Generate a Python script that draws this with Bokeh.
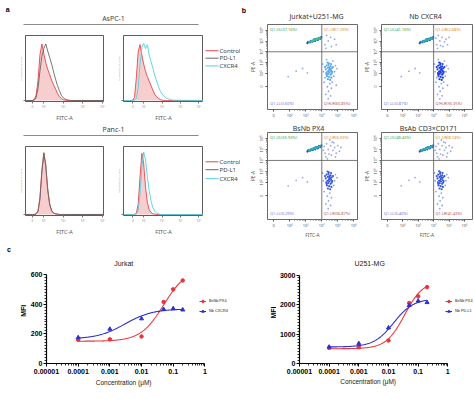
import numpy as np
from bokeh.plotting import figure
from bokeh.layouts import row, column
from bokeh.models import Range1d, FixedTicker, Label, Legend, LegendItem, Span, Spacer
from bokeh.core.properties import value
from bokeh.embed import file_html
from bokeh.resources import INLINE

FONT = "Liberation Sans"
SFONT = "Noto Sans"

# ---------------- panel a : flow histograms (FITC-A in decade units, % of mode) ----------------
hist_u = [-0.07, 0.3, 0.4, 0.5, 0.6, 0.7, 0.8, 0.9, 1.0, 1.1, 1.2, 1.3, 1.4, 1.5, 1.6, 1.7, 1.8,
          1.9, 2.0, 2.1, 2.2, 2.3, 2.4, 2.5, 2.6, 4.28]
aspc_control_a = [0, 0, 0, 1, 8, 30, 70, 87, 72, 58, 48, 40, 31, 24, 18, 11, 6, 3, 1, 0.5, 0, 0, 0, 0, 0, 0]
aspc_pdl1 = [0, 0, 0, 0.5, 4, 18, 45, 68, 80, 87, 76, 66, 56, 44, 33, 23, 15, 8, 4, 2, 1, 0.5, 0, 0, 0, 0]
aspc_control_b = [0, 0, 0.5, 5, 35, 75, 86, 70, 56, 45, 37, 30, 23, 16, 10, 6, 3.5, 1.5, 0.5, 0, 0, 0, 0, 0, 0, 0]
aspc_cxcr4 = [0, 0, 0, 0.5, 3, 20, 55, 82, 88, 80, 86, 70, 60, 50, 39, 30, 22, 15, 10, 7, 4.5, 3, 2, 1, 0.5, 0]
panc_control_a = [0, 0, 0, 0, 1, 5, 25, 65, 91, 70, 35, 14, 5, 2, 1, 0.5, 0, 0, 0, 0, 0, 0, 0, 0, 0, 0]
panc_pdl1 = [0, 0, 0, 0, 0.5, 4, 22, 62, 90, 74, 38, 16, 6, 2, 1, 0.5, 0, 0, 0, 0, 0, 0, 0, 0, 0, 0]
panc_control_b = [0, 0, 0, 0, 2, 15, 55, 90, 75, 40, 18, 7, 3, 1, 0.5, 0, 0, 0, 0, 0, 0, 0, 0, 0, 0, 0]
panc_cxcr4 = [0, 0, 0, 0, 1, 6, 30, 70, 92, 80, 55, 35, 20, 10, 5, 2, 1, 0, 0, 0, 0, 0, 0, 0, 0, 0]
hist_tick_u = [0.41, 1, 2, 3, 4]
hist_tick_labels = ["0", "10³", "10⁴", "10⁵", "10⁶"]
hist_titles = ["AsPC-1", "Panc-1"]
hist_legend = ["Control", "PD-L1", "CXCR4"]

# ---------------- panel b : flow dot plots (decade units) ----------------
flow_titles = ["Jurkat+U251-MG", "Nb CXCR4", "BsNb PX4", "BsAb CD3×CD171"]
q_ul = ["37.16", "41.16", "55.93", "49.43"]
q_ur = ["1.39", "2.68", "6.93", "8.74"]
q_ll = ["0.60", "0.81", "0.29", "0.40"]
q_lr = ["60.85", "55.35", "36.87", "41.43"]
flow_x_ticks = [0, 1, 2, 3, 4, 5]
flow_y_ticks = [-0.21, 1, 2, 3, 4, 5]
flow_tick_labels = ["0", "10²", "10³", "10⁴", "10⁵", "10⁶"]
gate_x = 3.0
gate_y = 3.0
ul_core_x = [2.20, 2.28, 2.35, 2.40, 2.45, 2.50, 2.55, 2.58, 2.62, 2.66, 2.70, 2.74, 2.78, 2.82, 2.86, 2.90,
             2.40, 2.52, 2.60, 2.68, 2.76, 2.84, 2.47, 2.64, 2.72]
ul_core_y = [3.90, 3.96, 3.98, 4.03, 4.02, 4.08, 4.07, 4.13, 4.12, 4.16, 4.15, 4.21, 4.20, 4.26, 4.24, 4.30,
             4.00, 4.06, 4.10, 4.14, 4.19, 4.23, 4.07, 4.15, 4.20]
ul_edge_x = [2.10, 2.18, 2.25, 2.33, 2.42, 2.50, 2.58, 2.66, 2.74, 2.82, 2.90, 2.97, 2.30, 2.46, 2.62, 2.78,
             2.94, 2.15, 2.38, 2.55, 2.70, 2.86]
ul_edge_y = [3.80, 3.92, 3.88, 4.01, 3.95, 4.12, 4.00, 4.20, 4.09, 4.29, 4.20, 4.35, 3.93, 4.00, 4.17, 4.14,
             4.31, 3.90, 3.98, 4.13, 4.21, 4.27]
lr_core_x = [3.30, 3.42, 3.55, 3.38, 3.50, 3.62, 3.25, 3.45, 3.58, 3.35, 3.48, 3.65, 3.28, 3.40, 3.55, 3.32,
             3.46, 3.60, 3.38, 3.52, 3.44, 3.36, 3.58, 3.70, 3.20, 3.47, 3.53, 3.41, 3.30, 3.62]
lr_core_y = [1.72, 1.79, 1.65, 1.51, 1.44, 1.47, 1.37, 1.30, 1.23, 1.16, 1.09, 1.13, 1.02, 0.95, 0.88, 0.74,
             0.67, 0.60, 0.46, 0.39, 1.93, 2.00, 1.86, 1.58, 1.58, 1.58, 1.37, 1.16, 0.88, 0.99]
lr_sparse_x = [3.15, 3.50, 3.35, 3.60, 3.42, 3.25, 3.55, 3.40, 3.80, 3.85, 3.10, 3.75, 3.95, 3.05, 3.70, 3.30,
               3.65, 3.20, 3.48, 3.90]
lr_sparse_y = [0.18, 0.04, -0.24, -0.38, -0.66, -0.94, -1.08, -1.36, 1.16, 1.72, 1.16, 0.74, 1.44, 1.86, 2.14,
               2.28, 0.18, 0.60, -1.78, -0.10]
ur_x = [3.20, 3.40, 3.60, 3.80, 3.30, 3.55, 3.90, 3.25, 3.70, 4.00, 3.45, 3.15, 3.65, 4.10, 3.35, 3.85, 3.50,
        3.75, 4.20, 3.10]
ur_y = [3.66, 4.00, 3.49, 4.17, 4.51, 4.34, 3.66, 3.32, 3.92, 4.34, 3.58, 4.26, 4.68, 3.83, 3.15, 3.32, 4.85,
        4.60, 4.17, 3.92]
ll_x = [1.40, 1.80, 2.10, 0.90]
ll_y = [1.20, 1.45, 1.05, 0.70]
ur_count = [8, 12, 20, 20]
lr_sparse_count = [20, 20, 14, 14]

# ---------------- panel c : binding curves ----------------
conc = [0.0001, 0.001, 0.01, 0.05, 0.1, 0.2]
jurkat_px4 = [160, 163, 182, 415, 500, 560]
jurkat_cxcr4 = [175, 232, 302, 365, 370, 362]
u251_px4 = [530, 550, 780, 2050, 2280, 2590]
u251_pdl1 = [560, 680, 1210, 1970, 2120, 2070]
# fitted curves: bottom, top, EC50 (uM), hill slope
jurkat_px4_fit = [150, 640, 0.05, 1.2]
jurkat_cxcr4_fit = [165, 368, 0.003, 1.0]
u251_px4_fit = [500, 2800, 0.035, 1.4]
u251_pdl1_fit = [560, 2200, 0.015, 1.3]
conc_ticks = [1e-5, 1e-4, 1e-3, 1e-2, 1e-1, 1]
conc_tick_labels = ["0.00001", "0.0001", "0.001", "0.01", "0.1", "1"]
jurkat_names = ["BsNb PX4", "Nb CXCR4"]
u251_names = ["BsNb PX4", "Nb PD-L1"]

# styles
LR_CORE_COL = ["#5aa9ea", "#1f3fe0", "#3a5ad8", "#3a5ad8"]
UL_CORE_COL = ["#39c28c", "#2bb3a5", "#2bb3a5", "#2bb3a5"]
RED = "#e8343c"
BLUE = "#2b2fd0"


def blank(w, h):
    f = figure(width=w, height=h, x_range=Range1d(0, w), y_range=Range1d(h, 0),
               x_axis_location=None, y_axis_location=None, toolbar_location=None,
               output_backend="svg", min_border=0, title=None)
    f.grid.visible = False
    f.outline_line_color = None
    return f


def put_text(f, x, y, t, size="7px", color="#333", align="center", style="normal", font=SFONT, angle=0):
    f.text(x=[x], y=[y], text=[t], text_font=value(font), text_font_size=size, angle=angle,
           text_align=align, text_baseline="middle", text_color=color, text_font_style=style)


def hist_panel(w, h, bl, br, bt, bb, xr, ctrl, other, other_color):
    p = figure(width=w, height=h, x_range=Range1d(*xr), y_range=Range1d(-1.5, 100),
               toolbar_location=None, output_backend="svg", title=None,
               min_border_left=bl, min_border_right=br, min_border_top=bt, min_border_bottom=bb)
    p.grid.visible = False
    p.outline_line_color = "#333"
    p.outline_line_width = 0.8
    xa = p.xaxis[0]
    xa.ticker = FixedTicker(ticks=hist_tick_u, minor_ticks=[])
    xa.major_label_overrides = dict(zip(hist_tick_u, hist_tick_labels))
    xa.axis_line_color = None
    xa.major_tick_out = 2
    xa.major_tick_in = 0
    xa.major_tick_line_color = "#777"
    xa.major_label_text_font = SFONT
    xa.major_label_text_font_size = "3px"
    xa.major_label_text_color = "#888"
    xa.major_label_standoff = 1
    xa.axis_label = "FITC-A"
    xa.axis_label_text_font = SFONT
    xa.axis_label_text_font_size = "5.5px"
    xa.axis_label_text_font_style = "normal"
    xa.axis_label_text_color = "#555"
    xa.axis_label_standoff = 2
    ya = p.yaxis[0]
    ya.ticker = FixedTicker(ticks=[0], minor_ticks=[])
    ya.major_label_overrides = {0: ""}
    ya.axis_line_color = None
    ya.major_tick_out = 2
    ya.major_tick_in = 0
    ya.major_tick_line_color = "#777"
    ya.major_label_standoff = 0
    ya.major_label_text_font_size = "3px"
    ya.axis_label = "Normalized To Mode"
    ya.axis_label_text_font = SFONT
    ya.axis_label_text_font_size = "2.5px"
    ya.axis_label_text_font_style = "normal"
    ya.axis_label_text_color = "#999"
    ya.axis_label_standoff = 1
    p.varea(x=hist_u, y1=0, y2=ctrl, fill_color="#f6c6c6", fill_alpha=0.85)
    p.line(hist_u, ctrl, line_color="#e8444c", line_width=0.9)
    p.line(hist_u, other, line_color=other_color, line_width=0.9)
    return p


def hist_legend_fig(h, ys):
    f = blank(37, h)
    cols = ["#e8444c", "#666666", "#55d0e0"]
    for name, y, c in zip(hist_legend, ys, cols):
        f.line([2, 15], [y, y], line_color=c, line_width=1)
        put_text(f, 16, y, name, size="6px", color="#444", align="left")
    return f


def flow_panel(k, w, h, bl, br, bt, bb, xr, xlabel):
    yr = (-2.35, 5.53)
    p = figure(width=w, height=h, x_range=Range1d(*xr), y_range=Range1d(*yr),
               toolbar_location=None, output_backend="svg", title=None,
               min_border_left=bl, min_border_right=br, min_border_top=bt, min_border_bottom=bb)
    p.grid.visible = False
    p.outline_line_color = "#444"
    p.outline_line_width = 0.8
    minor = [d + np.log10(m) for d in range(1, 5) for m in range(2, 10)]
    for ax, lab, tk in ((p.xaxis[0], xlabel, flow_x_ticks), (p.yaxis[0], "PE-A", flow_y_ticks)):
        ax.ticker = FixedTicker(ticks=tk, minor_ticks=minor)
        ax.major_label_overrides = dict(zip(tk, flow_tick_labels))
        ax.axis_line_color = None
        ax.major_tick_out = 2
        ax.major_tick_in = 0
        ax.minor_tick_out = 1
        ax.minor_tick_in = 0
        ax.major_tick_line_color = "#555"
        ax.minor_tick_line_color = "#777"
        ax.major_label_text_font = SFONT
        ax.major_label_text_font_size = "4px"
        ax.major_label_text_color = "#555"
        ax.major_label_standoff = 1
        if lab:
            ax.axis_label = lab
            ax.axis_label_text_font = SFONT
            ax.axis_label_text_font_size = "4.8px"
            ax.axis_label_text_font_style = "normal"
            ax.axis_label_text_color = "#555"
            ax.axis_label_standoff = 1
    p.yaxis[0].major_label_orientation = "vertical"
    p.add_layout(Span(location=gate_x, dimension="height", line_color="#555", line_width=0.8))
    p.add_layout(Span(location=gate_y, dimension="width", line_color="#555", line_width=0.8))
    p.scatter(ll_x, ll_y, size=1.8, marker="circle", color="#9aa8ee", line_width=0)
    p.scatter(ur_x[:ur_count[k]], ur_y[:ur_count[k]], size=1.8, marker="circle", color="#9aa8ee", line_width=0)
    n = lr_sparse_count[k]
    p.scatter(lr_sparse_x[:n], lr_sparse_y[:n], size=1.8, marker="circle", color="#8fa0ee", line_width=0)
    p.scatter(lr_core_x, lr_core_y, size=2.2, marker="circle", color=LR_CORE_COL[k], line_width=0)
    p.scatter(ul_edge_x, ul_edge_y, size=2.2, marker="circle", color="#2545d8", line_width=0)
    p.scatter(ul_core_x, ul_core_y, size=2.0, marker="circle", color=UL_CORE_COL[k], line_width=0)
    fs = "3.9px"
    xl = xr[0] + 0.15
    yt = yr[1] - 0.2
    yb = yr[0] + 0.3
    p.text(x=[xl], y=[yt], text=["Q1-UL(%s%%)" % q_ul[k]], text_font=value(SFONT), text_font_size=fs,
           text_color="#3a9a3a", text_baseline="top")
    p.text(x=[gate_x + 0.12], y=[yt], text=["Q1-UR(%s%%)" % q_ur[k]], text_font=value(SFONT),
           text_font_size=fs, text_color="#e0892a", text_baseline="top")
    p.text(x=[xl], y=[yb], text=["Q1-LL(%s%%)" % q_ll[k]], text_font=value(SFONT), text_font_size=fs,
           text_color="#7b70d6", text_baseline="bottom")
    p.text(x=[gate_x + 0.12], y=[yb], text=["Q1-LR(%s%%)" % q_lr[k]], text_font=value(SFONT),
           text_font_size=fs, text_color="#b0505a", text_baseline="bottom")
    return p


def fourpl(params, xs):
    b, t, ec, hl = params
    return b + (t - b) / (1.0 + (ec / xs) ** hl)


def dose_panel(w, h, bl, x_end, y_end, yticks, yminor, ymax, ser1, ser2, fit1, fit2, names, leg_x,
               title_xy, title):
    p = figure(width=w, height=h, x_axis_type="log", x_range=Range1d(1e-5, x_end),
               y_range=Range1d(0, y_end), toolbar_location=None, output_backend="svg", title=None,
               min_border_left=bl, min_border_right=0, min_border_top=0, min_border_bottom=14)
    p.grid.visible = False
    p.outline_line_color = None
    xa = p.xaxis[0]
    xa.ticker = FixedTicker(ticks=conc_ticks,
                            minor_ticks=[m * 10.0 ** d for d in range(-5, 0) for m in range(2, 10)])
    xa.major_label_overrides = dict(zip(conc_ticks, conc_tick_labels))
    xa.bounds = (1e-5, 1)
    ya = p.yaxis[0]
    ya.ticker = FixedTicker(ticks=yticks, minor_ticks=yminor)
    ya.bounds = (0, ymax)
    for ax in (xa, ya):
        ax.axis_line_color = "black"
        ax.axis_line_width = 1.2
        ax.major_tick_out = 3
        ax.major_tick_in = 0
        ax.minor_tick_out = 2
        ax.minor_tick_in = 0
        ax.major_tick_line_width = 1
        ax.minor_tick_line_width = 0.8
        ax.major_label_text_font = FONT
        ax.major_label_text_font_style = "bold"
        ax.major_label_text_font_size = "7px"
        ax.major_label_text_color = "black"
        ax.major_label_standoff = 2
    ya.major_label_standoff = 1
    xs = np.logspace(-4, np.log10(0.2), 150)
    l1 = p.line(xs, fourpl(fit1, xs), line_color=RED, line_width=1.1)
    s1 = p.scatter(conc, ser1, marker="circle", size=3.5, color=RED)
    l2 = p.line(xs, fourpl(fit2, xs), line_color=BLUE, line_width=1.1)
    s2 = p.scatter(conc, ser2, marker="triangle", size=4, color=BLUE)
    leg = Legend(items=[LegendItem(label=names[0], renderers=[l1, s1]),
                        LegendItem(label=names[1], renderers=[l2, s2])],
                 location=(leg_x, 49), orientation="vertical", padding=0, margin=0, spacing=4,
                 glyph_width=7, glyph_height=6, label_height=6, label_standoff=3,
                 label_text_font=FONT, label_text_font_size="3.8px", label_text_color="#222",
                 border_line_color=None, background_fill_alpha=0)
    p.add_layout(leg)
    p.add_layout(Label(x=title_xy[0], y=title_xy[1], text=title, text_font=FONT, text_font_size="7px",
                       text_align="center", text_baseline="middle", text_color="#222"))
    return p


# ---------------- panel a layout ----------------
hdrA1 = blank(240, 30)
put_text(hdrA1, 7.3, 8.5, "a", size="7px", color="black", style="bold", font=FONT)
put_text(hdrA1, 113, 18, hist_titles[0], size="7px", color="#444")
hdrA1.line([23, 198], [24, 24], line_color="#8a8a8a", line_width=1)
h1 = hist_panel(114, 94, 25, 11, 5, 17, (0.06, 4.06), aspc_control_a, aspc_pdl1, "#666666")
h2 = hist_panel(89, 94, 7, 0, 5, 17, (-0.1, 4.26), aspc_control_b, aspc_cxcr4, "#55d0e0")
lg1 = hist_legend_fig(94, [21.7, 32.3, 43.3])
hdrA2 = blank(240, 18)
put_text(hdrA2, 113, 5, hist_titles[1], size="7px", color="#444")
hdrA2.line([23, 198], [11, 11], line_color="#8a8a8a", line_width=1)
h3 = hist_panel(114, 96, 25, 11, 4, 19, (0.06, 4.06), panc_control_a, panc_pdl1, "#666666")
h4 = hist_panel(89, 96, 7, 0, 4, 19, (-0.1, 4.26), panc_control_b, panc_cxcr4, "#55d0e0")
lg2 = hist_legend_fig(96, [21.3, 32.3, 44.7])
colA = column(hdrA1, row(h1, h2, lg1), hdrA2, row(h3, h4, lg2), Spacer(width=240, height=7))

# ---------------- panel b layout ----------------
hdrB1 = blank(234, 22)
put_text(hdrB1, 3.5, 10, "b", size="7px", color="black", style="bold", font=FONT)
put_text(hdrB1, 76, 16, flow_titles[0], size="7px", color="#333")
put_text(hdrB1, 185, 16, flow_titles[1], size="7px", color="#333")
f1 = flow_panel(0, 120, 98, 27, 3, 2, 11, (-0.39, 5.23), None)
f2 = flow_panel(1, 114, 98, 20, 2, 2, 11, (-0.38, 5.52), None)
hdrB2 = blank(234, 11)
put_text(hdrB2, 68, 6.5, flow_titles[2], size="7px", color="#333")
put_text(hdrB2, 188, 6.5, flow_titles[3], size="7px", color="#333")
f3 = flow_panel(2, 120, 109, 27, 3, 1, 19, (-0.39, 5.23), "FITC-A")
f4 = flow_panel(3, 114, 109, 20, 2, 1, 19, (-0.38, 5.52), "FITC-A")
colB = column(hdrB1, row(f1, f2), hdrB2, row(f3, f4), Spacer(width=234, height=5))

# ---------------- panel c layout ----------------
mfiL = blank(27, 132)
put_text(mfiL, 8.5, 5, "c", size="7px", color="black", style="bold", font=FONT)
put_text(mfiL, 22.5, 73, "MFI", size="7px", color="black", style="bold", font=FONT, angle=np.pi / 2)
cL = dose_panel(213, 132, 17, 10 ** (196 / 32.0 - 5), 118 * 600 / 89.0, [0, 200, 400, 600],
                list(range(20, 600, 20)), 600, jurkat_px4, jurkat_cxcr4, jurkat_px4_fit, jurkat_cxcr4_fit,
                jurkat_names, 153, (10 ** (-5 + (122 - 44) / 32.0), 100 * 600 / 89.0), "Jurkat")
labL = blank(240, 22)
put_text(labL, 124, 4.5, "Concentration  (μM)", size="6.5px", color="#222", font=FONT)

mfiR = blank(36, 132)
put_text(mfiR, 32.5, 75, "MFI", size="7px", color="black", style="bold", font=FONT, angle=np.pi / 2)
cR = dose_panel(198, 132, 21, 10 ** (177 / 30.0 - 5), 118 * 3000 / 88.5, [0, 1000, 2000, 3000],
                list(range(100, 3000, 100)), 3000, u251_px4, u251_pdl1, u251_px4_fit, u251_pdl1_fit,
                u251_names, 146, (10 ** (-5 + (368 - 297) / 30.0), 100 * 3000 / 88.5), "U251-MG")
labR = blank(234, 22)
put_text(labR, 128.5, 4, "Concentration  (μM)", size="6.5px", color="#222", font=FONT)

bottom = row(column(row(mfiL, cL), labL), column(row(mfiR, cR), labR))
page = column(row(colA, colB), bottom)
open("out.html", "w").write(file_html(page, INLINE))
